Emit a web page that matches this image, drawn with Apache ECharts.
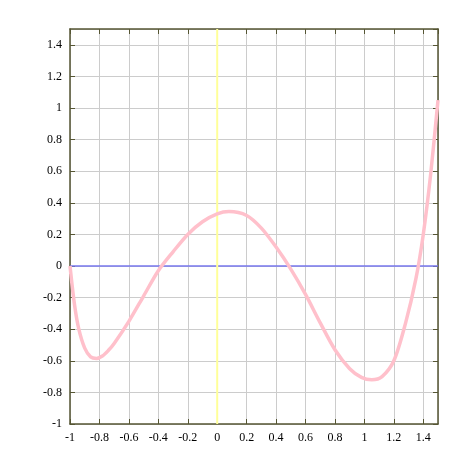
<!DOCTYPE html><html><head><meta charset="utf-8">
<script src="https://cdn.jsdelivr.net/npm/echarts@6/dist/echarts.min.js"></script>
<style>html,body{margin:0;background:#fff}#c{width:474px;height:467px}</style></head><body><div id="c"></div><script>
const xs=[-1,-0.97,-0.94,-0.9,-0.86,-0.82,-0.78,-0.74,-0.7,-0.6,-0.5,-0.4,-0.3,-0.2,-0.1,0,0.08,0.2,0.3,0.4,0.5,0.6,0.7,0.8,0.9,0.98,1.05,1.12,1.2,1.28,1.35,1.4,1.45,1.5];
const ys=[0,-0.24,-0.40,-0.52,-0.575,-0.585,-0.57,-0.535,-0.49,-0.35,-0.19,-0.03,0.09,0.20,0.28,0.33,0.345,0.32,0.24,0.12,-0.02,-0.18,-0.36,-0.53,-0.65,-0.705,-0.72,-0.70,-0.60,-0.36,-0.08,0.2,0.58,1.05];
const axisCol='#555533';
const ax=(min,max,extra)=>Object.assign({type:'value',min,max,interval:0.2,
 axisLine:{show:true,onZero:false,lineStyle:{color:axisCol,width:1.5}},
 axisTick:{inside:true,length:5,lineStyle:{color:axisCol}},
 splitLine:{lineStyle:{color:'#cccccc'}},
 axisLabel:{color:'#000',fontFamily:'Liberation Serif',fontSize:12,showMaxLabel:false,formatter:v=>(Math.round(v*10)/10)+''}},extra);
const chart=echarts.init(document.getElementById('c'));
chart.setOption({animation:false,
 grid:{left:70,right:36,top:29,bottom:43},
 xAxis:[ax(-1,1.5,{}),ax(-1,1.5,{position:'top',axisLabel:{show:false},splitLine:{show:false}})],
 yAxis:[ax(-1,1.5,{}),ax(-1,1.5,{position:'right',axisLabel:{show:false},splitLine:{show:false}})],
 series:[
  {type:'line',data:[[-1,0],[1.5,0]],symbol:'none',lineStyle:{color:'#7777ee',width:1.5},silent:true},
  {type:'line',data:[[0,-1],[0,1.5]],symbol:'none',lineStyle:{color:'#ffff99',width:2},silent:true},
  {type:'line',data:xs.map((x,i)=>[x,ys[i]]),smooth:0.3,symbol:'none',lineStyle:{color:'#ffc0cb',width:3.5}}
 ]});
</script></body></html>
